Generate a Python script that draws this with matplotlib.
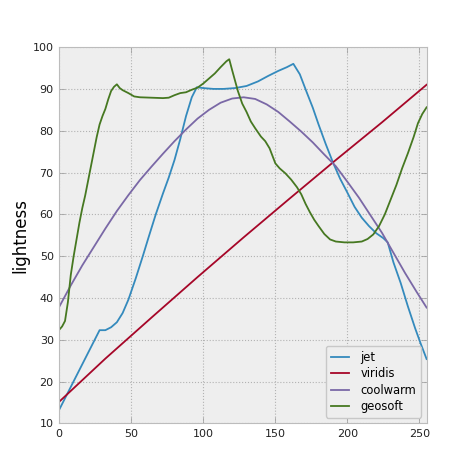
import matplotlib
matplotlib.use("Agg")
import matplotlib.pyplot as plt

# lightness (L*) values, per colormap
jet_x = [0, 28, 32, 36, 40, 44, 48, 53, 58, 62, 67, 72, 76, 80, 84, 88, 92, 95.5,
         100, 107, 114, 122, 130, 138, 145, 152, 158, 162.5, 167, 172, 176, 180,
         185, 190, 195, 200, 205, 210, 215, 220, 225, 228, 232, 237, 242, 247, 251, 255]
jet_l = [13.3, 32.3, 32.3, 33.0, 34.2, 36.4, 39.6, 44.6, 50, 54.5, 60, 65, 68.8, 73,
         78, 83.5, 88, 90.4, 90.2, 90, 90, 90.2, 90.7, 91.8, 93.1, 94.3, 95.2, 96,
         93.5, 89, 85.5, 81.5, 76.8, 72.4, 68.5, 65.2, 61.8, 59.2, 57.2, 55.5, 54.3,
         53.3, 48.5, 43.6, 38, 32.8, 29, 25.4]

viridis_x = [0, 32, 64, 96, 128, 160, 192, 224, 255]
viridis_l = [15.2, 25.5, 35.3, 45, 54.5, 63.8, 73, 82, 91]

coolwarm_x = [0, 8, 16, 24, 32, 40, 48, 56, 64, 72, 80, 88, 96, 104, 112, 120, 128,
              136, 144, 152, 160, 168, 176, 184, 192, 200, 208, 216, 224, 232, 240,
              248, 255]
coolwarm_l = [37.9, 43, 47.8, 52.2, 56.6, 60.8, 64.6, 68.2, 71.4, 74.5, 77.5, 80.3,
              82.9, 85.0, 86.7, 87.7, 88, 87.6, 86.3, 84.5, 82.2, 79.8, 77.2, 74.3,
              71.5, 67.8, 64, 59.8, 55.6, 50.8, 46, 41.5, 37.7]

geosoft_x = [0, 2, 4, 6, 8, 10, 12, 14, 16, 18, 20, 22, 24, 26, 28, 30, 32, 34, 36,
             38, 40, 42, 44, 48, 52, 56, 64, 72, 76, 80, 84, 88, 92, 96, 100, 104,
             108, 112, 116, 118, 120, 122, 124, 127, 130, 133, 136, 140, 143, 146,
             148, 150, 153, 157, 161, 165, 168, 171, 174, 177, 180, 184, 188, 192,
             198, 204, 210, 214, 218, 222, 226, 230, 234, 238, 242, 246, 249, 252, 255]
geosoft_l = [32.4, 33.2, 34.5, 39, 45.5, 50, 54, 58, 61.5, 64.5, 68, 71.5, 75, 78.5,
             81.5, 83.5, 85.2, 87.5, 89.5, 90.5, 91.1, 90.2, 89.7, 89, 88.2, 88, 87.9,
             87.8, 87.9, 88.5, 89, 89.2, 89.8, 90.3, 91.3, 92.5, 93.7, 95.2, 96.6,
             97.1, 94.5, 92, 89.5, 86.5, 84.5, 82.2, 80.6, 78.6, 77.5, 75.8, 74, 72.2,
             71, 69.8, 68.3, 66.5, 64.8, 62.5, 60.5, 58.7, 57.2, 55.3, 54, 53.5, 53.3,
             53.3, 53.5, 54.1, 55.2, 57.2, 60, 63.5, 67, 71, 74.6, 78.5, 81.8, 84, 85.6]

series = [("jet", jet_x, jet_l, "#348ABD"),
          ("viridis", viridis_x, viridis_l, "#A60628"),
          ("coolwarm", coolwarm_x, coolwarm_l, "#7A68A6"),
          ("geosoft", geosoft_x, geosoft_l, "#467821")]

fig = plt.figure(figsize=(4.74, 4.71), dpi=100)
ax = fig.add_axes([0.125, 0.101, 0.775, 0.799])
ax.set_facecolor("#eeeeee")

for name, xs, ls, col in series:
    ax.plot(xs, ls, color=col, lw=1.3, label=name)

ax.set_xlim(0, 255)
ax.set_ylim(10, 100)
ax.set_xticks(range(0, 251, 50))
ax.set_yticks(range(10, 101, 10))
ax.set_ylabel("lightness", fontsize=12, labelpad=2.5)

ax.grid(True, color="#b2b2b2", linestyle=":", linewidth=0.8)
ax.set_axisbelow(True)
for sp in ax.spines.values():
    sp.set_color("#bcbcbc")
ax.tick_params(direction="in", length=4, width=0.5, color="#999999",
               top=True, right=True, labelsize=8, pad=4, labelcolor="#222222")

leg = ax.legend(loc="lower right", fontsize=8.3, handlelength=1.6,
                handletextpad=1.0, labelspacing=0.3, fancybox=True,
                borderaxespad=0.5)
leg.get_frame().set_facecolor("#eeeeee")
leg.get_frame().set_edgecolor("#c8c8c8")
leg.get_frame().set_alpha(1)

plt.savefig("out.png", dpi=100)
